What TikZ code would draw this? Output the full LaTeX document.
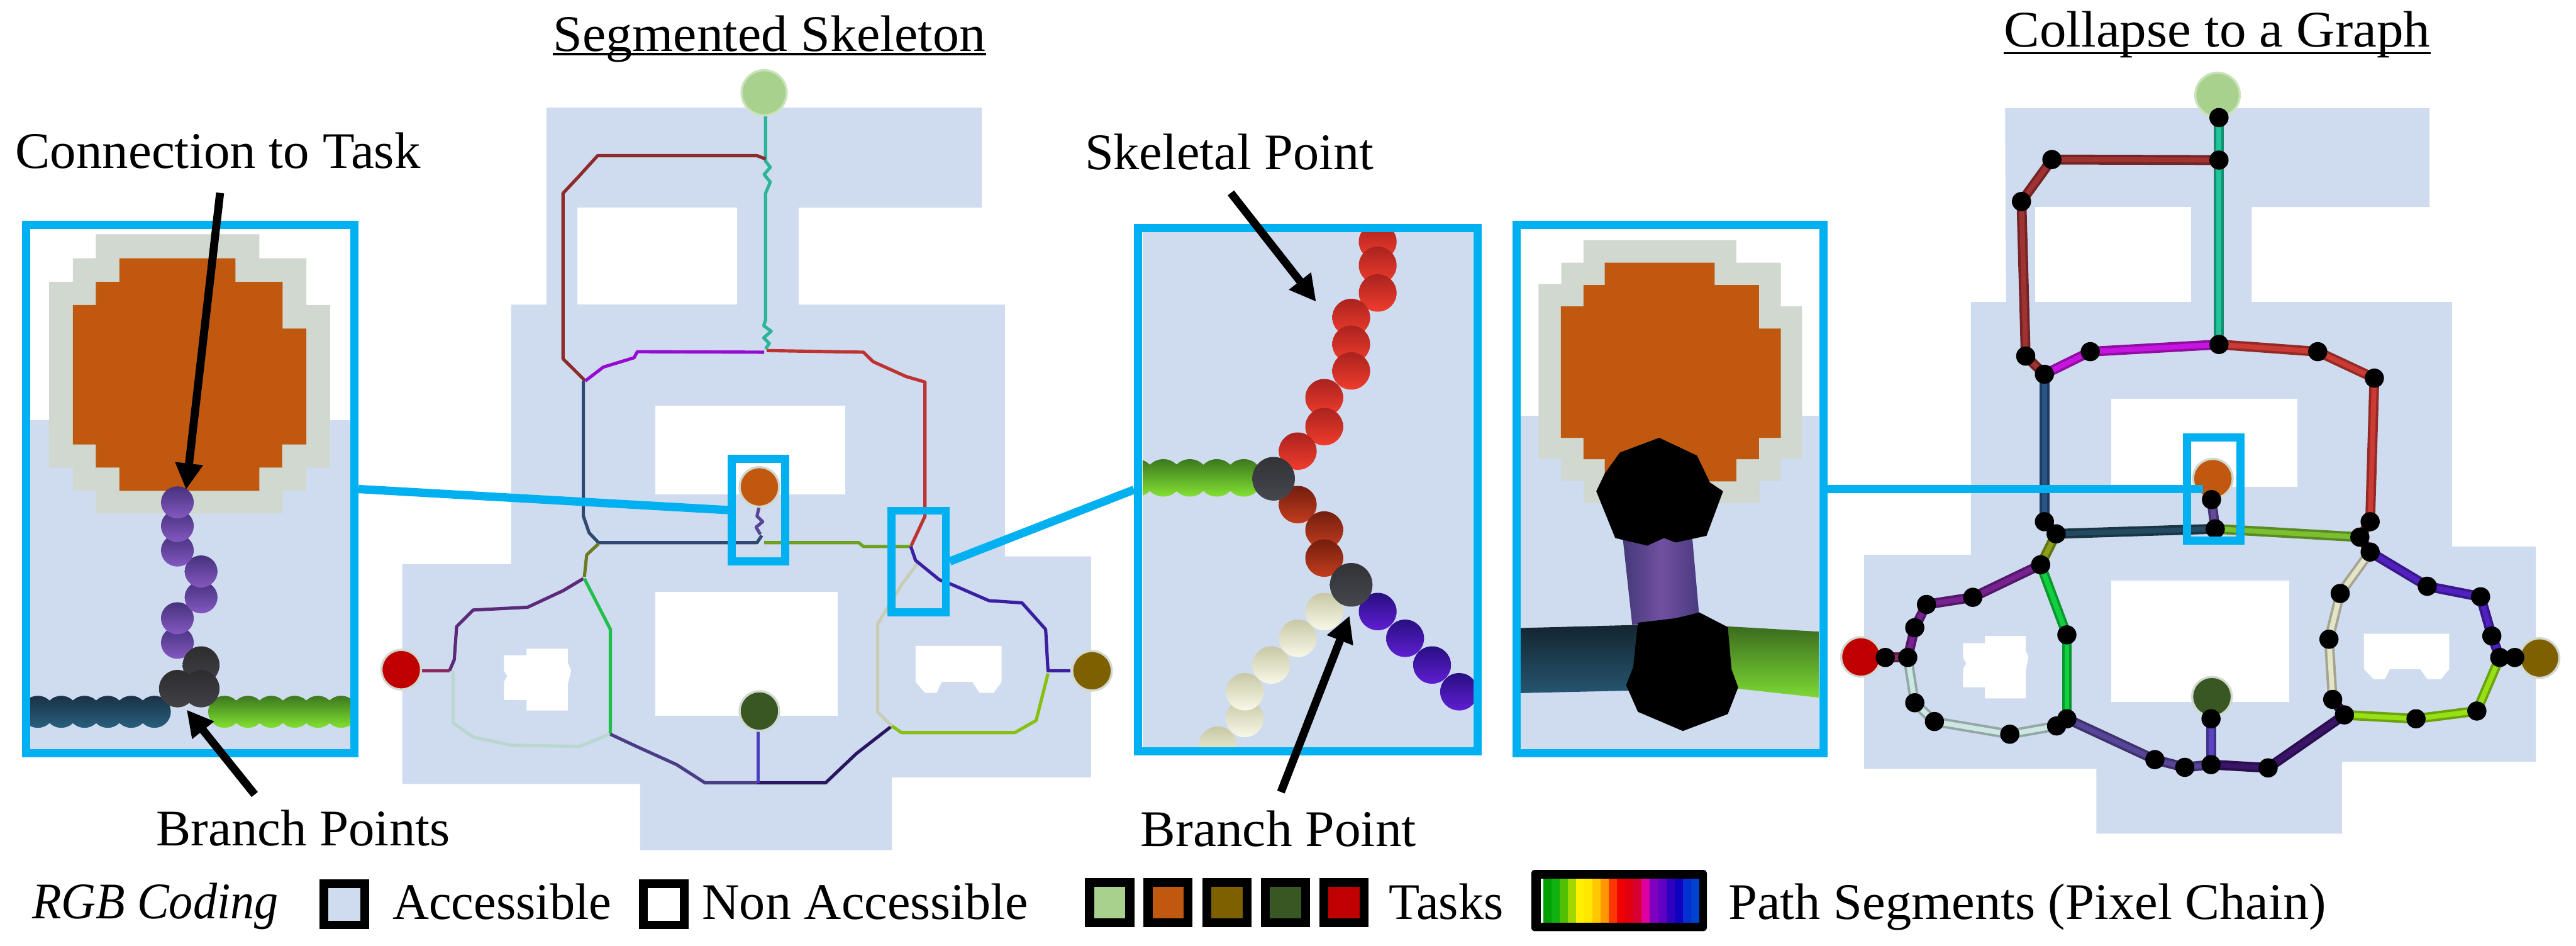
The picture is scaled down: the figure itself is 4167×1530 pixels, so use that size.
\documentclass[tikz,border=0pt]{standalone}
\usepackage{fontspec}
\usepackage{graphicx}
\setmainfont{Liberation Serif}
\usetikzlibrary{arrows.meta}
\definecolor{acc}{HTML}{CFDCF0}
\definecolor{fblue}{HTML}{00B0F0}
\definecolor{halo}{HTML}{D0D8D0}
\definecolor{torange}{HTML}{C0590F}
\definecolor{tgreen}{HTML}{A9D18E}
\definecolor{tbrown}{HTML}{7F6000}
\definecolor{tdark}{HTML}{385723}
\definecolor{tred}{HTML}{C00000}
\newcommand\fitw[2]{\resizebox{#1pt}{\height}{#2}}
\newcommand\sphc[2]{\definecolor{spa}{RGB}{#1}\definecolor{spb}{RGB}{#2}}
\newcommand\sph[2]{\path[shade,top color=spa,bottom color=spb] (#1,#2) circle[x radius=\rx,y radius=\ry];}
\newcommand\seg[3]{\draw[line width=3.2pt,#1!72!black,line cap=round] (#2) -- (#3);\draw[line width=1.6pt,#1,line cap=round] (#2) -- (#3);}
\tikzset{
 zone1/.style={shift={(0,200)},xscale=0.40816,yscale=0.72067},
 zone2/.style={shift={(620,0)},xscale=0.7653,yscale=0.8929},
 zone3/.style={shift={(1800,200)},xscale=0.7653,yscale=0.72067},
 zone4/.style={shift={(2980,0)},xscale=0.757,yscale=0.8929},
 lab/.style={anchor=base west,inner sep=0pt,font=\fontsize{16.6}{20}\selectfont},
 frm/.style={draw=fblue,line width=2.6pt,rectangle,inner sep=0pt},
 link/.style={draw=fblue,line width=2.7pt},
 callout/.style={line width=2.6pt,-{Triangle[length=8.5pt,width=8.5pt]}},
 pixchain/.style={line width=1.05pt,line join=round},
 task/.style={circle,inner sep=0pt,minimum size=12.8pt,draw=halo,line width=0.7pt},
 gnode/.style={circle,fill=black,inner sep=0pt,minimum size=6.2pt},
 swatch/.style={rectangle,draw=black,line width=2.8pt,inner sep=0pt,minimum width=13.2pt,minimum height=13.4pt},
 tswatch/.style={rectangle,draw=black,line width=2.9pt,inner sep=0pt,minimum width=13pt,minimum height=13pt},
 uline/.style={line width=0.7pt},
}
\begin{document}
\begin{tikzpicture}[x=0.2pt,y=-0.2pt]
\useasboundingbox (0,0) rectangle (4167,1530);
\fill[white] (0,0) rectangle (4167,1530);

% ---------- left inset ----------
\begin{scope}[zone1]
\begin{scope}
\clip (120,236) rectangle (1390,1407);
\fill[acc] (120,666) rectangle (1390,1407);
\fill[halo] (380,248)--(1028,248)--(1028,302)--(1214,302)--(1214,407)--(1308,407)--(1308,772)--(1214,772)--(1214,824)--(1120,824)--(1120,875)--(380,875)--(380,824)--(289,824)--(289,772)--(195,772)--(195,355)--(289,355)--(289,302)--(380,302)--cycle;
\fill[torange] (473,302)--(933,302)--(933,355)--(1120,355)--(1120,460)--(1214,460)--(1214,720)--(1118,720)--(1118,772)--(1028,772)--(1028,824)--(473,824)--(473,772)--(380,772)--(380,720)--(289,720)--(289,407)--(380,407)--(380,355)--(473,355)--cycle;
\def\rx{65}\def\ry{36}
\sphc{25,50,70}{40,95,125}
\foreach \x in {612,520,427,335,243,150} {\sph{\x}{1320}}
\sphc{60,120,30}{130,225,50}
\foreach \x in {1352,1260,1168,1075,983,890} {\sph{\x}{1320}}
\sphc{70,50,125}{132,88,192}
\foreach \y in {1165,1110} {\sph{703}{\y}}
\foreach \y in {1063,1005} {\sph{797}{\y}}
\foreach \y in {958,903,850} {\sph{703}{\y}}
\def\rx{73}\def\ry{42}
\sphc{45,45,48}{65,65,70}
\sph{797}{1215}\sph{703}{1268}\sph{797}{1268}
\end{scope}
\end{scope}

% ---------- segmented skeleton plan ----------
\begin{scope}[zone2]
\fill[acc] (345,195)--(1265,195)--(1265,376)--(878,376)--(878,552)--(1314,552)--(1314,1008)--(1496,1008)--(1496,1408)--(1075,1408)--(1075,1540)--(543,1540)--(543,1420)--(40,1420)--(40,1022)--(270,1022)--(270,552)--(345,552)--cycle;
\fill[white] (410,376) rectangle (748,552);
\fill[white] (575,735) rectangle (977,895);
\fill[white] (575,1072) rectangle (960,1297);
\fill[white] (303,1175)--(390,1175)--(390,1200)--(397,1215)--(390,1240)--(390,1287)--(303,1287)--(303,1268)--(255,1268)--(255,1235)--(262,1225)--(255,1215)--(255,1187)--(303,1187)--cycle;
\fill[white] (1125,1170)--(1307,1170)--(1307,1235)--(1290,1255)--(1260,1255)--(1245,1235)--(1180,1235)--(1170,1255)--(1145,1255)--(1125,1235)--cycle;
\draw[pixchain,color={rgb,255:red,44;green,181;blue,154}] (808,210)--(808,285)--(808,292)--(818,303)--(805,316)--(818,330)--(808,350)--(808,580)--(804,590)--(820,600)--(804,612)--(816,622)--(808,632);
\draw[pixchain,color={rgb,255:red,142;green,42;blue,42}] (808,288)--(790,282)--(453,282)--(415,318)--(380,350)--(380,650)--(427,690);
\draw[pixchain,color={rgb,255:red,150;green,10;blue,210}] (427,690)--(465,665)--(530,648)--(537,637)--(805,638);
\draw[pixchain,color={rgb,255:red,190;green,50;blue,50}] (810,635)--(1015,638)--(1035,655)--(1105,682)--(1145,692)--(1145,935)--(1115,990);
\draw[pixchain,color={rgb,255:red,46;green,74;blue,112}] (423,690)--(423,935)--(435,965)--(455,983)--(790,983)--(800,970);
\draw[pixchain,color={rgb,255:red,90;green,70;blue,150}] (797,968)--(788,955)--(802,945)--(790,935)--(795,915);
\draw[pixchain,color={rgb,255:red,110;green,162;blue,30}] (805,983)--(1005,983)--(1015,990)--(1115,990);
\draw[pixchain,color={rgb,255:red,110;green,122;blue,34}] (455,985)--(430,1005)--(425,1045);
\draw[pixchain,color={rgb,255:red,92;green,42;blue,120}] (423,1048)--(380,1070)--(305,1100)--(190,1105)--(155,1135)--(150,1195)--(140,1215);
\draw[pixchain,color={rgb,255:red,138;green,42;blue,90}] (140,1215)--(80,1215);
\draw[pixchain,color={rgb,255:red,31;green,191;blue,74}] (425,1048)--(480,1140)--(480,1330);
\draw[pixchain,color={rgb,255:red,185;green,214;blue,208}] (148,1215)--(148,1310)--(190,1335)--(270,1350)--(415,1352)--(478,1330);
\draw[pixchain,color={rgb,255:red,74;green,60;blue,133}] (480,1330)--(535,1352)--(620,1385)--(680,1418)--(790,1418);
\draw[pixchain,color={rgb,255:red,42;green,22;blue,96}] (790,1418)--(935,1418)--(1000,1365)--(1075,1315);
\draw[pixchain,color={rgb,255:red,74;green,63;blue,192}] (792,1320)--(792,1418);
\draw[pixchain,color={rgb,255:red,136;green,192;blue,16}] (1075,1315)--(1095,1327)--(1335,1327)--(1380,1305)--(1405,1220);
\draw[pixchain,color={rgb,255:red,201;green,205;blue,181}] (1130,1020)--(1095,1060)--(1045,1130)--(1045,1290)--(1075,1315);
\draw[pixchain,color={rgb,255:red,58;green,31;blue,160}] (1115,990)--(1125,1015)--(1175,1050)--(1205,1060)--(1280,1088)--(1350,1092)--(1400,1140)--(1405,1215)--(1452,1215);
\node[task,minimum size=14.6pt,fill=tgreen,draw=tgreen!60!white] (pg) at (805,168) {};
\node[task,fill=torange] (po) at (795,882) {};
\node[task,fill=tred] (pr) at (38,1213) {};
\node[task,fill=tbrown] (pb) at (1498,1215) {};
\node[task,fill=tdark] (pd) at (795,1288) {};
\end{scope}

% ---------- centre inset ----------
\begin{scope}[zone3]
\begin{scope}
\clip (63,243) rectangle (762,1400);
\fill[acc] (63,243) rectangle (762,1400);
\def\rx{40}\def\ry{42}
\sphc{170,35,30}{240,60,45}
\foreach \x/\y in {560/265,560/318,560/380,504/435,504/495,504/555,447/615,447/680,391/735} {\sph{\x}{\y}}
\sphc{115,30,15}{195,60,30}
\foreach \x/\y in {391/855,447/912,447/975} {\sph{\x}{\y}}
\sphc{40,15,130}{95,30,210}
\foreach \x/\y in {560/1095,618/1155,675/1215,732/1275} {\sph{\x}{\y}}
\sphc{200,200,165}{248,248,232}
\foreach \x/\y in {222/1395,279/1335,279/1275,335/1215,391/1155,447/1095} {\sph{\x}{\y}}
\sphc{60,120,30}{130,225,50}
\foreach \x in {50,107,163,220,277} {\sph{\x}{795}}
\def\rx{45}\def\ry{49}
\sphc{50,50,55}{70,72,78}
\sph{340}{797}\sph{504}{1035}
\end{scope}
\end{scope}

% ---------- right close-up ----------
\begin{scope}[zone3]
\begin{scope}
\clip (860,235) rectangle (1492,1405);
\fill[acc] (860,655) rectangle (1492,1405);
\fill[halo] (995,262)--(1318,262)--(1318,312)--(1412,312)--(1412,410)--(1457,410)--(1457,752)--(1412,752)--(1412,802)--(1367,802)--(1367,852)--(995,852)--(995,802)--(948,802)--(948,752)--(900,752)--(900,360)--(948,360)--(948,312)--(995,312)--cycle;
\fill[torange] (1040,312)--(1272,312)--(1272,362)--(1366,362)--(1366,460)--(1412,460)--(1412,705)--(1366,705)--(1366,753)--(1318,753)--(1318,803)--(1040,803)--(1040,753)--(995,753)--(995,705)--(947,705)--(947,410)--(995,410)--(995,362)--(1040,362)--cycle;
\shade[top color={rgb,255:red,20;green,37;blue,47},bottom color={rgb,255:red,37;green,85;blue,112}] (860,1132)--(1110,1125)--(1110,1272)--(860,1278)--cycle;
\shade[top color={rgb,255:red,59;green,107;blue,30},bottom color={rgb,255:red,124;green,216;blue,53}] (1295,1128)--(1492,1140)--(1492,1288)--(1295,1265)--cycle;
\shade[left color={rgb,255:red,69;green,56;blue,120},right color={rgb,255:red,74;green,58;blue,128},middle color={rgb,255:red,112;green,80;blue,160}] (1078,930)--(1225,930)--(1240,1110)--(1098,1125)--cycle;
\fill[black] (1155,705)--(1235,745)--(1262,805)--(1290,825)--(1255,925)--(1190,940)--(1165,930)--(1130,947)--(1062,930)--(1022,825)--(1040,785)--(1072,738)--cycle;
\fill[black] (1110,1120)--(1190,1110)--(1240,1097)--(1300,1130)--(1308,1225)--(1322,1265)--(1300,1325)--(1205,1363)--(1110,1320)--(1085,1260)--(1100,1220)--cycle;
\end{scope}
\end{scope}

% ---------- collapsed graph plan ----------
\begin{scope}[zone4]
\fill[acc] (348,196)--(1255,196)--(1255,375)--(875,375)--(875,547)--(1303,547)--(1303,990)--(1482,990)--(1482,1380)--(1068,1380)--(1068,1510)--(543,1510)--(543,1393)--(47,1393)--(47,1005)--(275,1005)--(275,547)--(350,547)--cycle;
\fill[white] (412,375) rectangle (745,547);
\fill[white] (575,722) rectangle (972,882);
\fill[white] (575,1052) rectangle (955,1272);
\fill[white] (305,1152)--(392,1152)--(392,1178)--(398,1190)--(392,1215)--(392,1265)--(305,1265)--(305,1245)--(258,1245)--(258,1212)--(265,1202)--(258,1192)--(258,1165)--(305,1165)--cycle;
\fill[white] (1115,1148)--(1297,1148)--(1297,1212)--(1280,1230)--(1250,1230)--(1235,1212)--(1170,1212)--(1160,1230)--(1135,1230)--(1115,1212)--cycle;
\node[task,minimum size=14.4pt,fill=tgreen,draw=tgreen!60!white] (qg) at (802,172) {};
\node[task,fill=torange] (qo) at (792,867) {};
\node[task,fill=tdark] (qd) at (790,1262) {};
\node[task,fill=tred] (qr) at (40,1190) {};
\node[task,fill=tbrown] (qb) at (1490,1192) {};
\foreach \n/\x/\y in {1/805/213,2/805/290,3/448/289,4/383/365,5/392/645,6/432/678,7/530/637,8/805/624,9/1016/637,10/1137/685,11/1128/945,12/1106/973,13/1128/1000,14/432/945,15/457/967,16/424/1023,17/480/1150,18/480/1302,19/458/1315,20/358/1330,21/197/1307,22/155/1273,23/140/1191,24/92/1191,25/155/1137,26/180/1095,27/279/1082,28/668/1376,29/732/1390,30/788/1385,31/910/1391,32/1073/1295,33/1048/1267,34/1040/1158,35/1064/1075,36/1250/1062,37/1364/1081,38/1388/1152,39/1405/1191,40/1437/1191,41/1356/1288,42/1226/1302,43/788/1302,44/789/905,45/797/958}
  {\coordinate (n\n) at (\x,\y);}
\definecolor{ea}{HTML}{1FC49A}\definecolor{eb}{HTML}{A03232}\definecolor{ec}{HTML}{C814E0}
\definecolor{ed}{HTML}{CC3A35}\definecolor{ee}{HTML}{2A5488}\definecolor{ef}{HTML}{234A60}
\definecolor{eg}{HTML}{7CC030}\definecolor{eh}{HTML}{8A9F1A}\definecolor{ei}{HTML}{762290}
\definecolor{ej}{HTML}{8A2B60}\definecolor{ek}{HTML}{10D040}\definecolor{el}{HTML}{CDE8E4}
\definecolor{em}{HTML}{574598}\definecolor{en}{HTML}{3A1468}\definecolor{eo}{HTML}{5A44C0}
\definecolor{ep}{HTML}{96E015}\definecolor{eq}{HTML}{E4E4C8}\definecolor{er}{HTML}{5020C0}
\definecolor{es}{HTML}{654A9C}
\foreach \c/\a/\b in {ea/1/2,ea/2/8,eb/2/3,eb/3/4,eb/4/5,eb/5/6,ec/6/7,ec/7/8,ed/8/9,ed/9/10,ed/10/11,ed/11/12,ee/6/14,ef/14/15,ef/15/45,eg/45/12,eh/15/16,ei/16/27,ei/27/26,ei/26/25,ei/25/23,ej/23/24,ek/16/17,ek/17/18,el/23/22,el/22/21,el/21/20,el/20/19,el/19/18,em/18/28,em/28/29,em/29/30,en/30/31,en/31/32,eo/30/43,ep/32/42,ep/42/41,ep/41/39,eq/33/34,eq/34/35,eq/35/13,en/33/32,er/13/36,er/36/37,er/37/38,er/38/39,er/39/40,es/44/45,ed/12/13}
  {\seg{\c}{n\a}{n\b}}
\foreach \n in {1,...,45} {\node[gnode] (g\n) at (n\n) {};}
\end{scope}

% ---------- blue frames and links ----------
\node[frm,minimum width=106.2pt,minimum height=171pt] (fa) at (308,791) {};
\node[frm,minimum width=17.3pt,minimum height=33.2pt] (fb) at (1227,825) {};
\node[frm,minimum width=17.6pt,minimum height=32.8pt] (fc) at (1486,908) {};
\node[frm,minimum width=109.8pt,minimum height=169.2pt] (fd) at (2115.5,792) {};
\node[frm,minimum width=99.2pt,minimum height=171pt] (fe) at (2701.5,791) {};
\node[frm,minimum width=17.4pt,minimum height=33.4pt] (ff) at (3581,791) {};
\draw[link] (fa.east) -- (fb.west);
\draw[link] (fc.east) -- (fd.west);
\draw[link] (fe.east) -- ([xshift=-3.4pt]ff.center);

% ---------- labels ----------
\node[lab] (ltask) at (24,272) {\fitw{131}{Connection to Task}};
\node[lab] (lbps) at (252,1368) {\fitw{95}{Branch Points}};
\node[lab] (lsk) at (1754,274) {\fitw{93.4}{Skeletal Point}};
\node[lab] (lbp) at (1844,1369) {\fitw{89.2}{Branch Point}};
\node[lab] (tseg) at (894,83) {\fitw{139.8}{Segmented Skeleton}};
\node[lab] (tcol) at (3241,76) {\fitw{137.8}{Collapse to a Graph}};
\draw[uline] ([yshift=-0.9pt]tseg.base west) -- ([yshift=-0.9pt]tseg.base east);
\draw[uline] ([yshift=-2pt]tcol.base west) -- ([yshift=-2pt]tcol.base east);

% ---------- call-outs ----------
\coordinate (a1s) at (356,312); \coordinate (a1e) at (301,792);
\coordinate (a2s) at (412,1285); \coordinate (a2e) at (302,1148);
\coordinate (a3s) at (1991,312); \coordinate (a3e) at (2129,488);
\coordinate (a4s) at (2072,1281); \coordinate (a4e) at (2183,996);
\draw[callout] (a1s) -- (a1e);
\draw[callout] (a2s) -- (a2e);
\draw[callout] (a3s) -- (a3e);
\draw[callout] (a4s) -- (a4e);

% ---------- legend ----------
\node[lab] (lrgb) at (51,1486) {\fitw{79.6}{\itshape RGB Coding}};
\node[swatch,fill=acc] (s1) at (557,1462.5) {};
\node[lab] (lacc) at (634,1487) {\fitw{70.8}{Accessible}};
\node[swatch,fill=white] (s2) at (1073.5,1462.5) {};
\node[lab] (lnon) at (1135,1487) {\fitw{105.4}{Non Accessible}};
\node[tswatch,fill=tgreen] (s3) at (1795,1460) {};
\node[tswatch,fill=torange] (s4) at (1889.5,1460) {};
\node[tswatch,fill=tbrown] (s5) at (1985,1460) {};
\node[tswatch,fill=tdark] (s6) at (2079.5,1460) {};
\node[tswatch,fill=tred] (s7) at (2174,1460) {};
\node[lab] (ltk) at (2246,1487) {\fitw{37}{Tasks}};
\fill[black,rounded corners=1pt] (2477,1407) rectangle (2761,1506);
\fill[white] (2492,1421) rectangle (2748,1492);
\foreach \c [count=\i from 0] in {00A000,10B010,50C000,A0D800,FFF000,FFE800,FFC800,FF9800,FF3800,F00000,E00010,D80030,E000A0,8000C0,6000C0,3000C0,1000C0,0030D0,0040D0}
 {\definecolor{stripe}{HTML}{\c}\fill[stripe] ({2496+\i*13.3},1421) rectangle ({2496+(\i+1)*13.3+0.5},1492);}
\node[lab] (lps) at (2795,1487) {\fitw{193.4}{Path Segments (Pixel Chain)}};
\end{tikzpicture}
\end{document}
